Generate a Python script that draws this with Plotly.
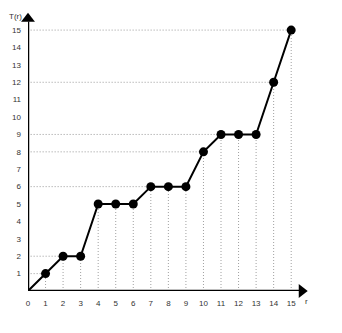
import plotly.graph_objects as go

r_vals = list(range(0, 16))
t_vals = [0, 1, 2, 2, 5, 5, 5, 6, 6, 6, 8, 9, 9, 9, 12, 15]
x_ticks = list(range(0, 16))
y_ticks = list(range(1, 16))
h_guides = [1, 2, 6, 8, 9, 12, 15]

fig = go.Figure()

# vertical dotted guides
for r, t in zip(r_vals[1:], t_vals[1:]):
    fig.add_trace(go.Scatter(x=[r, r], y=[0, t], mode="lines",
                             line=dict(color="#a0a0a0", width=1, dash="1px,2px"),
                             hoverinfo="skip", showlegend=False, cliponaxis=False))
# horizontal dotted guides (to first point reaching that level)
for h in h_guides:
    first_r = r_vals[t_vals.index(h)]
    fig.add_trace(go.Scatter(x=[0.15, first_r], y=[h, h], mode="lines",
                             line=dict(color="#999999", width=1, dash="1px,2px"),
                             hoverinfo="skip", showlegend=False, cliponaxis=False))

# axes with arrowheads
fig.add_trace(go.Scatter(x=[0, 15.5], y=[0, 0], mode="lines",
                         line=dict(color="black", width=2.5),
                         hoverinfo="skip", showlegend=False, cliponaxis=False))
fig.add_trace(go.Scatter(x=[0, 0], y=[0, 15.5], mode="lines",
                         line=dict(color="black", width=2.5),
                         hoverinfo="skip", showlegend=False, cliponaxis=False))
fig.add_trace(go.Scatter(x=[15.6], y=[0], mode="markers",
                         marker=dict(symbol="triangle-right", size=12, color="black"),
                         hoverinfo="skip", showlegend=False, cliponaxis=False))
fig.add_trace(go.Scatter(x=[0], y=[15.65], mode="markers",
                         marker=dict(symbol="triangle-up", size=12, color="black"),
                         hoverinfo="skip", showlegend=False, cliponaxis=False))

# data line
fig.add_trace(go.Scatter(x=r_vals, y=t_vals, mode="lines",
                         line=dict(color="black", width=2),
                         showlegend=False, cliponaxis=False))
fig.add_trace(go.Scatter(x=r_vals[1:], y=t_vals[1:], mode="markers",
                         marker=dict(color="black", size=9),
                         showlegend=False, cliponaxis=False))

fig.update_layout(
    width=342, height=333,
    margin=dict(l=28, r=28, t=4, b=42),
    plot_bgcolor="white", paper_bgcolor="white",
    font=dict(family="Liberation Sans, Arial, sans-serif", size=8, color="#333"),
    xaxis=dict(range=[0, 16.3], tickvals=x_ticks, ticktext=[str(v) for v in x_ticks],
               showgrid=False, zeroline=False, showline=False, ticks="",
               ticklabelstandoff=6, fixedrange=True),
    yaxis=dict(range=[0, 16.5], tickvals=y_ticks, ticktext=[str(v) for v in y_ticks],
               showgrid=False, zeroline=False, showline=False, ticks="",
               ticklabelstandoff=6, fixedrange=True),
    annotations=[
        dict(text="T(r)", xref="paper", yref="paper", x=-0.075, y=0.98,
             showarrow=False, xanchor="left", yanchor="top",
             font=dict(size=8, color="#333")),
        dict(text="r", xref="x", yref="paper", x=15.65, y=-0.015,
             showarrow=False, xanchor="left", yanchor="top",
             font=dict(size=8, color="#333")),
    ],
)

fig.write_html("out.html")
